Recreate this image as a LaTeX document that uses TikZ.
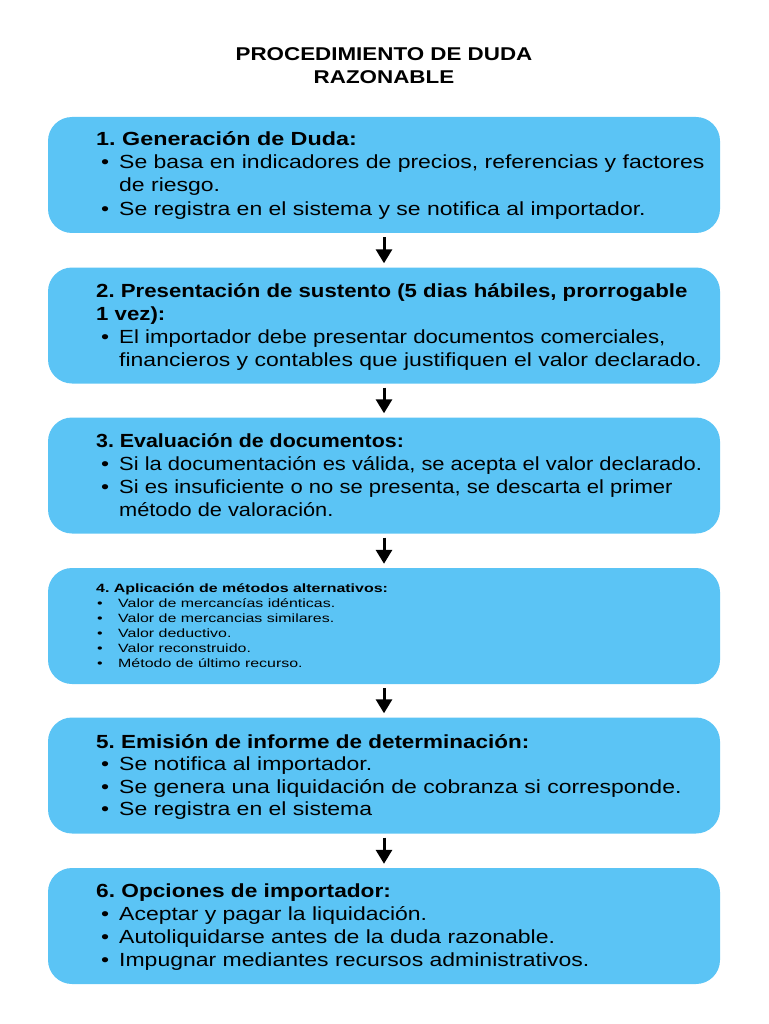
\documentclass[tikz,border=0pt]{standalone}
\usepackage{fontspec}
\setmainfont[FakeStretch=1.21]{Liberation Sans}
\newfontfamily\widefam[FakeStretch=1.33]{Liberation Sans}
\usetikzlibrary{arrows.meta}
\definecolor{boxblue}{RGB}{91,196,245}
\frenchspacing
\newcommand\hsq[2]{\scalebox{#1}[1]{#2}}
\tikzset{
  box/.style={fill=boxblue, draw=none, rounded corners=24pt, minimum width=672pt, minimum height=116pt, inner sep=0pt},
  hd/.style={anchor=base west, inner sep=0pt, font=\fontsize{19}{23}\selectfont\bfseries},
  tx/.style={anchor=base west, inner sep=0pt, font=\fontsize{19}{23}\selectfont},
  bl/.style={anchor=base west, inner sep=0pt, font=\fontsize{19}{23}\selectfont},
  shd/.style={anchor=base west, inner sep=0pt, font=\widefam\fontsize{12}{15}\selectfont\bfseries},
  stx/.style={anchor=base west, inner sep=0pt, font=\widefam\fontsize{12}{15}\selectfont},
  ttl/.style={anchor=base, inner sep=0pt, font=\fontsize{18.5}{23}\selectfont\bfseries},
  arr/.style={line width=3pt, -{Triangle[width=16pt,length=14pt]}, shorten <=4pt, shorten >=4pt}
}
\begin{document}
\begin{tikzpicture}[x=1pt,y=-1pt]
\useasboundingbox (0,0) rectangle (768,1024);
% title
\node[ttl] (t1) at (384,61) {PROCEDIMIENTO DE DUDA};
\node[ttl] (t2) at (384,84) {RAZONABLE};
% boxes
\node[box] (b1) at (384,175) {};
\node[box] (b2) at (384,325.5) {};
\node[box] (b3) at (384,475.5) {};
\node[box] (b4) at (384,626) {};
\node[box] (b5) at (384,775.5) {};
\node[box] (b6) at (384,926) {};
% arrows
\draw[arr] (b1) -- (b2);
\draw[arr] (b2) -- (b3);
\draw[arr] (b3) -- (b4);
\draw[arr] (b4) -- (b5);
\draw[arr] (b5) -- (b6);
% box 1
\node[hd] (h1) at (96,146) {\hsq{1.015}{1. Generación de Duda:}};
\node[bl] (p1a) at (101,169) {•};
\node[tx] (l1a) at (119,169) {Se basa en indicadores de precios, referencias y factores};
\node[tx] (l1b) at (119,192) {de riesgo.};
\node[bl] (p1c) at (101,215) {•};
\node[tx] (l1c) at (119,215) {Se registra en el sistema y se notifica al importador.};
% box 2
\node[hd] (h2a) at (96,297) {\hsq{0.966}{2. Presentación de sustento (5 dias hábiles, prorrogable}};
\node[hd] (h2b) at (96,320) {\hsq{0.966}{1 vez):}};
\node[bl] (p2a) at (101,343) {•};
\node[tx] (l2a) at (119,343) {\hsq{0.967}{El importador debe presentar documentos comerciales,}};
\node[tx] (l2b) at (119,366) {financieros y contables que justifiquen el valor declarado.};
% box 3
\node[hd] (h3) at (96,447) {\hsq{0.93}{3. Evaluación de documentos:}};
\node[bl] (p3a) at (101,470) {•};
\node[tx] (l3a) at (119,470) {\hsq{0.954}{Si la documentación es válida, se acepta el valor declarado.}};
\node[bl] (p3b) at (101,493) {•};
\node[tx] (l3b) at (119,493) {\hsq{0.958}{Si es insuficiente o no se presenta, se descarta el primer}};
\node[tx] (l3c) at (119,516) {\hsq{0.947}{método de valoración.}};
% box 4
\node[shd] (h4) at (96,592) {4. Aplicación de métodos alternativos:};
\node[stx] (p4a) at (97,607) {•};
\node[stx] (l4a) at (118,607) {Valor de mercancías idénticas.};
\node[stx] (p4b) at (97,622) {•};
\node[stx] (l4b) at (118,622) {Valor de mercancias similares.};
\node[stx] (p4c) at (97,637) {•};
\node[stx] (l4c) at (118,637) {Valor deductivo.};
\node[stx] (p4d) at (97,652) {•};
\node[stx] (l4d) at (118,652) {Valor reconstruido.};
\node[stx] (p4e) at (97,667) {•};
\node[stx] (l4e) at (118,667) {Método de último recurso.};
% box 5
\node[hd] (h5) at (96,748) {\hsq{0.977}{5. Emisión de informe de determinación:}};
\node[bl] (p5a) at (101,770.5) {•};
\node[tx] (l5a) at (119,770.5) {Se notifica al importador.};
\node[bl] (p5b) at (101,793) {•};
\node[tx] (l5b) at (119,793) {Se genera una liquidación de cobranza si corresponde.};
\node[bl] (p5c) at (101,815.5) {•};
\node[tx] (l5c) at (119,815.5) {Se registra en el sistema};
% box 6
\node[hd] (h6) at (96,897) {\hsq{0.986}{6. Opciones de importador:}};
\node[bl] (p6a) at (101,920) {•};
\node[tx] (l6a) at (119,920) {Aceptar y pagar la liquidación.};
\node[bl] (p6b) at (101,943) {•};
\node[tx] (l6b) at (119,943) {Autoliquidarse antes de la duda razonable.};
\node[bl] (p6c) at (101,966) {•};
\node[tx] (l6c) at (119,966) {Impugnar mediantes recursos administrativos.};
\end{tikzpicture}
\end{document}
